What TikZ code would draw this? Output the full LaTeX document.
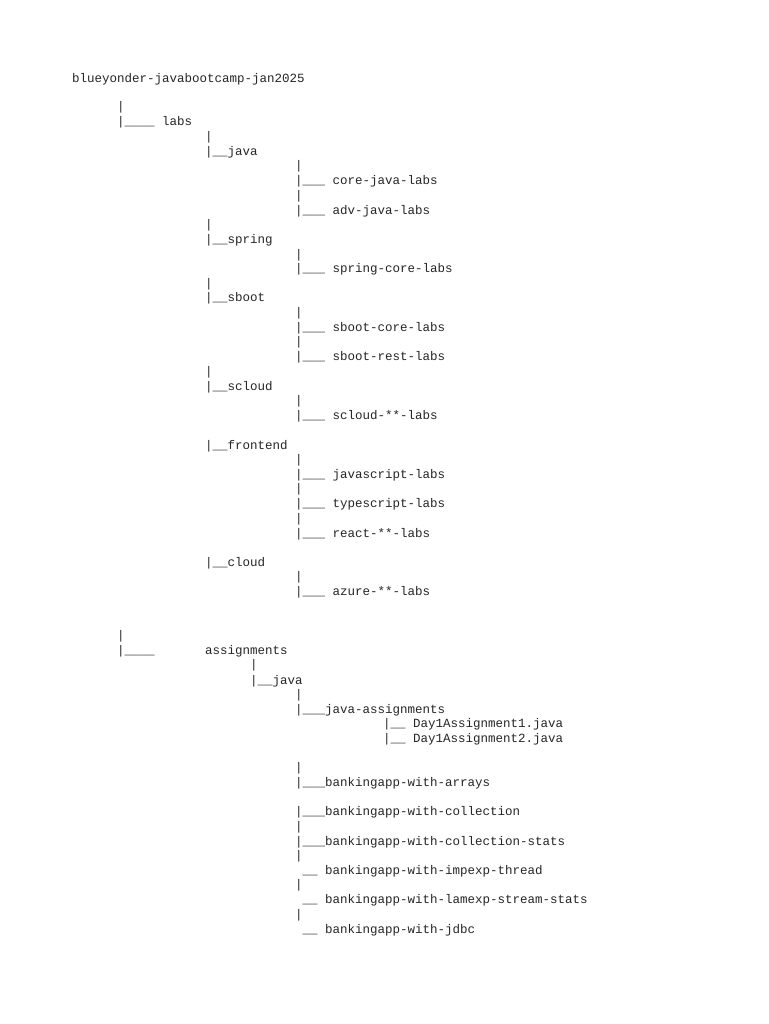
\documentclass[tikz,border=0pt]{standalone}
\usepackage{fontspec}
\setmonofont{Liberation Mono}
\begin{document}
\begin{tikzpicture}[x=1pt,y=1pt,txt/.style={anchor=mid west,inner sep=0pt,font=\ttfamily\fontsize{12.5}{14}\selectfont,text=black!85}]
\useasboundingbox[fill=white] (0,0) rectangle (768,-1024);
\foreach \x/\y/\t [count=\i] in {
72/80/blueyonder-javabootcamp-jan2025,
117/108/|,117/123/|\_\_\_\_ labs,
205/138/|,205/153/|\_\_java,
295/167/|,295/182/|\_\_\_ core-java-labs,
295/197/|,295/212/|\_\_\_ adv-java-labs,
205/226/|,205/241/|\_\_spring,
295/256/|,295/270/|\_\_\_ spring-core-labs,
205/285/|,205/299/|\_\_sboot,
295/314/|,295/329/|\_\_\_ sboot-core-labs,
295/343/|,295/358/|\_\_\_ sboot-rest-labs,
205/373/|,205/388/|\_\_scloud,
295/402/|,295/417/|\_\_\_ scloud-**-labs,
205/447/|\_\_frontend,
295/461/|,295/476/|\_\_\_ javascript-labs,
295/490/|,295/505/|\_\_\_ typescript-labs,
295/520/|,295/535/|\_\_\_ react-**-labs,
205/564/|\_\_cloud,
295/578/|,295/593/|\_\_\_ azure-**-labs,
117/637/|,117/652/|\_\_\_\_,205/652/assignments,
250/666/|,250/682/|\_\_java,
295/696/|,295/711/|\_\_\_java-assignments,
383/725/|\_\_ Day1Assignment1.java,
383/740/|\_\_ Day1Assignment2.java,
295/769/|,295/784/|\_\_\_bankingapp-with-arrays,
295/813/|\_\_\_bankingapp-with-collection,
295/828/|,295/843/|\_\_\_bankingapp-with-collection-stats,
295/857/|,302.5/872/\_\_ bankingapp-with-impexp-thread,
295/886/|,302.5/901/\_\_ bankingapp-with-lamexp-stream-stats,
295/916/|,302.5/931/\_\_ bankingapp-with-jdbc}
  \node[txt] (t\i) at (\x,-\y) {\t};
\end{tikzpicture}
\end{document}
